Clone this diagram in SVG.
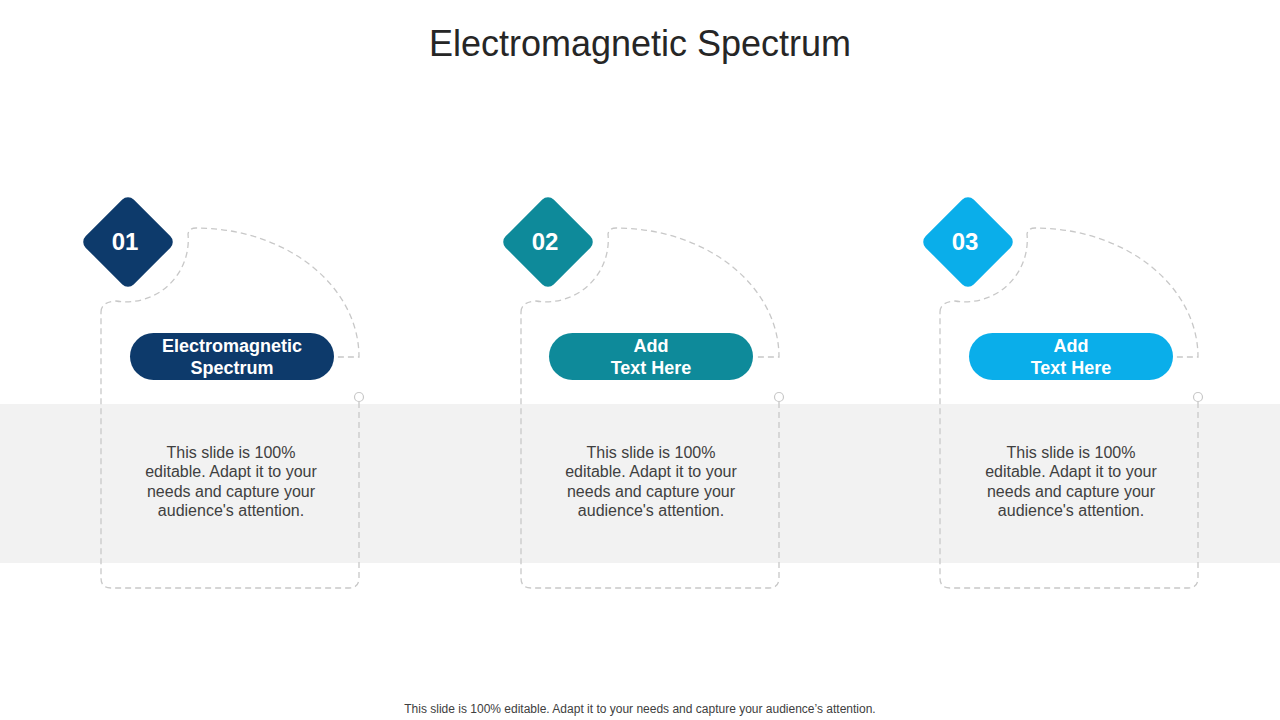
<svg xmlns="http://www.w3.org/2000/svg" width="1280" height="720" viewBox="0 0 1280 720">
<defs>
<style>
.o{fill:none;stroke:#c8c8c8;stroke-width:1.3;stroke-dasharray:6 4}
.n{font-family:"Liberation Sans",Arial,sans-serif;font-weight:bold;fill:#fff;text-anchor:middle}
.b{font-family:"Liberation Sans",Arial,sans-serif;font-size:16px;fill:#404040;text-anchor:middle}
</style>
<g id="shape">
<path class="o" d="M101,312 Q101,302 116,301 A62,62 0 0 0 188,234 Q189,228 196,228 A163,129 0 0 1 359,357 L334,357"/>
<path class="o" d="M359,402 L359,578 Q359,588 349,588 L111,588 Q101,588 101,578 L101,312"/>
<circle cx="359" cy="397" r="4.5" fill="#fff" stroke="#c8c8c8" stroke-width="1.2"/>
</g>
</defs>
<rect width="1280" height="720" fill="#fff"/>
<text x="640" y="56" font-family="'Liberation Sans',Arial,sans-serif" font-size="36" fill="#262626" text-anchor="middle">Electromagnetic  Spectrum</text>
<rect x="0" y="404" width="1280" height="159" fill="#f2f2f2"/>
<g id="connectors">
<use href="#shape"/>
<use href="#shape" x="420"/>
<use href="#shape" x="839"/>
</g>
<g id="node1">
<rect x="94" y="208" width="68" height="68" rx="8" fill="#0d3a6b" transform="rotate(45 128 242)"/>
<text class="n" x="125" y="250" font-size="24">01</text>
<rect x="130" y="333" width="204" height="47" rx="23.5" fill="#0d3a6b"/>
<text class="n" x="232" y="352" font-size="18">Electromagnetic</text>
<text class="n" x="232" y="374" font-size="18">Spectrum</text>
<text class="b" x="231" y="458">This slide is 100%</text>
<text class="b" x="231" y="477">editable. Adapt it to your</text>
<text class="b" x="231" y="497">needs and capture your</text>
<text class="b" x="231" y="516">audience's attention.</text>
</g>
<g id="node2">
<rect x="514" y="208" width="68" height="68" rx="8" fill="#0e8a9a" transform="rotate(45 548 242)"/>
<text class="n" x="545" y="250" font-size="24">02</text>
<rect x="549" y="333" width="204" height="47" rx="23.5" fill="#0e8a9a"/>
<text class="n" x="651" y="352" font-size="18">Add</text>
<text class="n" x="651" y="374" font-size="18">Text Here</text>
<text class="b" x="651" y="458">This slide is 100%</text>
<text class="b" x="651" y="477">editable. Adapt it to your</text>
<text class="b" x="651" y="497">needs and capture your</text>
<text class="b" x="651" y="516">audience's attention.</text>
</g>
<g id="node3">
<rect x="934" y="208" width="68" height="68" rx="8" fill="#0aaeea" transform="rotate(45 968 242)"/>
<text class="n" x="965" y="250" font-size="24">03</text>
<rect x="969" y="333" width="204" height="47" rx="23.5" fill="#0aaeea"/>
<text class="n" x="1071" y="352" font-size="18">Add</text>
<text class="n" x="1071" y="374" font-size="18">Text Here</text>
<text class="b" x="1071" y="458">This slide is 100%</text>
<text class="b" x="1071" y="477">editable. Adapt it to your</text>
<text class="b" x="1071" y="497">needs and capture your</text>
<text class="b" x="1071" y="516">audience's attention.</text>
</g>
<text x="640" y="713" font-family="'Liberation Sans',Arial,sans-serif" font-size="12" fill="#404040" text-anchor="middle">This slide is 100% editable. Adapt it to your needs and capture your audience’s attention.</text>
</svg>
